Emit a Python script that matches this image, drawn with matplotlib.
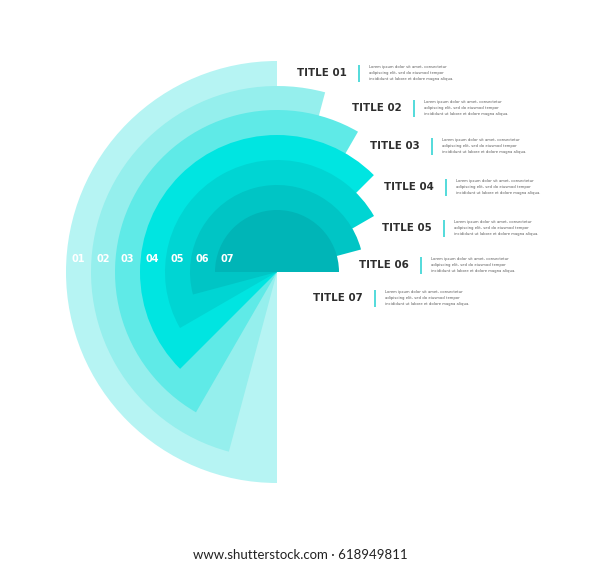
import matplotlib
matplotlib.use("Agg")
import matplotlib.pyplot as plt
from matplotlib.patches import Wedge

# data
numbers = ["01", "02", "03", "04", "05", "06", "07"]
titles = ["TITLE 01", "TITLE 02", "TITLE 03", "TITLE 04", "TITLE 05", "TITLE 06", "TITLE 07"]
values = [211, 186, 162, 137, 112, 87, 62]
lorem = ["Lorem ipsum dolor sit amet, consectetur",
         "adipiscing elit, sed do eiusmod tempor",
         "incididunt ut labore et dolore magna aliqua."]

colors = ["#b6f4f3", "#95efed", "#5feae7", "#00e5e1", "#00d5d3", "#00c5c5", "#00b5b7"]

W, H = 600, 565
cx, cy = 277, H - 272
step = 15  # each wedge turned 15 deg clockwise

# where the text blocks sit (pixel coords from the top)
bar_x = [359, 414, 432, 446, 444, 421, 375]
text_y = [73, 108, 146, 187, 228, 265, 298]

fig = plt.figure(figsize=(6, 5.65), dpi=100)
ax = fig.add_axes([0, 0, 1, 1])
ax.set_xlim(0, W)
ax.set_ylim(0, H)
ax.set_aspect("equal")
ax.axis("off")

for i, r in enumerate(values):
    t1 = 90 - step * i
    ax.add_patch(Wedge((cx, cy), r, t1, t1 + 180, facecolor=colors[i], edgecolor="none", zorder=i))
    # number inside its band on the left side
    nx = cx - (r - 12.5)
    ax.text(nx, H - 259, numbers[i], color="white", fontsize=7, fontweight="bold",
            ha="center", va="center", zorder=20)

for i, t in enumerate(titles):
    y = H - text_y[i]
    bx = bar_x[i]
    ax.text(bx - 12, y, t, color="#2e2e2e", fontsize=7.4, fontweight="bold",
            ha="right", va="center", family="DejaVu Sans", zorder=20)
    ax.plot([bx, bx], [y - 8.5, y + 8.5], color="#45d8d8", lw=1.3, solid_capstyle="butt", zorder=20)
    for k, line in enumerate(lorem):
        ax.text(bx + 10, y + 6 - 6 * k, line, color="#5a5a5a", fontsize=2.7,
                ha="left", va="center", zorder=20)

ax.text(300, H - 555, "www.shutterstock.com \u00b7 618949811", color="#222222",
        fontsize=9.5, family="Lato", ha="center", va="center")

fig.savefig("out.png", dpi=100, facecolor="white")
